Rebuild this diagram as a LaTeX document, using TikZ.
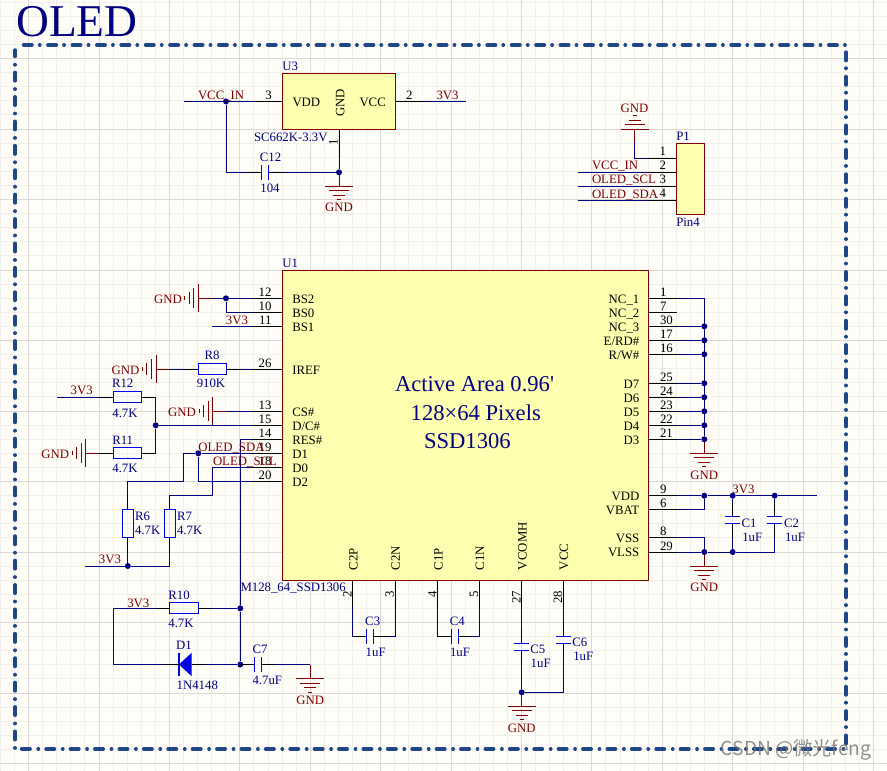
\documentclass[tikz,border=0pt]{standalone}
\usepackage{fontspec}
\setmainfont{Liberation Serif}
\newfontfamily\plainserif{Liberation Serif}
\newfontfamily\cjk{Noto Sans CJK SC}
\usetikzlibrary{calc}
\definecolor{netnavy}{HTML}{000080}
\definecolor{partblue}{HTML}{0000E6}
\definecolor{netred}{HTML}{800000}
\definecolor{bodyfill}{HTML}{FFFFB0}
\definecolor{sheet}{HTML}{FFFDF8}
\definecolor{gridminor}{HTML}{F1F0EB}
\definecolor{gridmajor}{HTML}{DAD9D5}
\definecolor{frameblue}{HTML}{1F4788}
\pgfdeclarelayer{bg}
\pgfdeclarelayer{wires}
\pgfsetlayers{bg,wires,main}
\tikzset{
  wire/.style={draw=netnavy,line width=1pt},
  leadblack/.style={draw=black,line width=1pt},
  gndline/.style={draw=netred,line width=1pt},
  plate/.style={draw=partblue,line width=1pt},
  bodybox/.style={draw=netred,fill=bodyfill,line width=1pt,inner sep=0pt,outer sep=0pt},
  rbox/.style={draw=partblue,line width=1pt,inner sep=0pt,outer sep=0pt,fill=none},
  rh/.style={rbox,minimum width=28.4pt,minimum height=11pt},
  rv/.style={rbox,minimum width=11pt,minimum height=28pt},
  junc/.style={circle,fill=netnavy,draw=none,minimum size=6pt,inner sep=0pt},
  txt/.style={inner sep=0pt,outer sep=0pt,text height=9.8pt,text depth=0pt,font=\fontsize{12.8}{14}\selectfont},
  des/.style={txt,text=netnavy},
  net/.style={txt,text=netred},
  pintxt/.style={txt,text=black},
  big/.style={inner sep=0pt,outer sep=0pt,text=netnavy,font=\plainserif\fontsize{22.6}{26}\selectfont,anchor=base west},
}
\newcommand{\W}[1]{\begin{pgfonlayer}{wires}\draw[wire] #1;\end{pgfonlayer}}
% ground symbols: terminal coordinate, 14 px stem, then four bars
\newcommand{\gndD}[3]{\coordinate (#1) at (#2,#3);
  \begin{pgfonlayer}{wires}\draw[gndline] (#1) -- ++(0,14);\end{pgfonlayer}
  \foreach \i/\w in {14/14,18.6/10,23.2/6,27.6/2}{\draw[gndline] ($(#1)+(-\w,\i)$) -- ($(#1)+(\w,\i)$);}}
\newcommand{\gndU}[3]{\coordinate (#1) at (#2,#3);
  \begin{pgfonlayer}{wires}\draw[gndline] (#1) -- ++(0,-14);\end{pgfonlayer}
  \foreach \i/\w in {14/14,18.6/10,23.2/6,27.6/2}{\draw[gndline] ($(#1)+(-\w,-\i)$) -- ($(#1)+(\w,-\i)$);}}
\newcommand{\gndL}[3]{\coordinate (#1) at (#2,#3);
  \begin{pgfonlayer}{wires}\draw[gndline] (#1) -- ++(-14,0);\end{pgfonlayer}
  \foreach \i/\w in {14/14,18.6/10,23.2/6,27.6/2}{\draw[gndline] ($(#1)+(-\i,-\w)$) -- ($(#1)+(-\i,\w)$);}}
% capacitors
\newcommand{\capH}[3]{\coordinate (#1) at (#2,#3);
  \coordinate (#1-l) at ($(#1)+(-3.5,0)$); \coordinate (#1-r) at ($(#1)+(3.5,0)$);
  \draw[plate] ($(#1-l)+(0,-7.3)$) -- ($(#1-l)+(0,7.3)$);
  \draw[plate] ($(#1-r)+(0,-7.3)$) -- ($(#1-r)+(0,7.3)$);
  \draw[leadblack] (#1-l) -- ++(-14,0); \draw[leadblack] (#1-r) -- ++(14,0);}
\newcommand{\capV}[3]{\coordinate (#1) at (#2,#3);
  \coordinate (#1-t) at ($(#1)+(0,-3.5)$); \coordinate (#1-b) at ($(#1)+(0,3.5)$);
  \draw[plate] ($(#1-t)+(-7.3,0)$) -- ($(#1-t)+(7.3,0)$);
  \draw[plate] ($(#1-b)+(-7.3,0)$) -- ($(#1-b)+(7.3,0)$);
  \draw[leadblack] (#1-t) -- ++(0,-14); \draw[leadblack] (#1-b) -- ++(0,14);}
% resistor leads
\newcommand{\leadsH}[1]{\draw[leadblack] (#1.west) -- ++(-14,0); \draw[leadblack] (#1.east) -- ++(14,0);}
\newcommand{\leadsV}[1]{\draw[leadblack] (#1.north) -- ++(0,-14); \draw[leadblack] (#1.south) -- ++(0,14);}
% U1 pins
\newcommand{\pinL}[4]{\coordinate (#1) at (282.3,#2); \coordinate (#1e) at (252,#2);
  \draw[leadblack] (#1) -- (#1e);
  \node[pintxt,anchor=east] (#1n) at (271.5,{#2-6.8}) {#3};
  \node[pintxt,anchor=west] (#1t) at (292.3,#2) {#4};}
\newcommand{\pinR}[4]{\coordinate (#1) at (648.3,#2); \coordinate (#1e) at (677,#2);
  \draw[leadblack] (#1) -- (#1e);
  \node[pintxt,anchor=west] (#1n) at (660,{#2-6.8}) {#3};
  \node[pintxt,anchor=east] (#1t) at (639.3,#2) {#4};}
\newcommand{\pinB}[4]{\coordinate (#1) at (#2,580.7); \coordinate (#1e) at (#2,606.7);
  \draw[leadblack] (#1) -- (#1e);
  \node[pintxt,rotate=90,anchor=east] (#1n) at ({#2-6},591) {#3};
  \node[pintxt,rotate=90,anchor=west] (#1t) at (#2,570) {#4};}
\begin{document}
\begin{tikzpicture}[x=1pt,y=-1pt]
\useasboundingbox (0,0) rectangle (887,771);
\begin{pgfonlayer}{bg}
  \fill[sheet] (0,0) rectangle (887,771);
  \foreach \i in {0,...,63}{\draw[gridminor,line width=0.9pt] ({0.44+14.08*\i},0) -- ({0.44+14.08*\i},771);}
  \foreach \j in {0,...,55}{\draw[gridminor,line width=0.9pt] (0,{2.1+14.1*\j}) -- (887,{2.1+14.1*\j});}
  \foreach \i in {-1,...,11}{\draw[gridmajor,line width=0.9pt] ({99+70.4*\i},0) -- ({99+70.4*\i},771);}
  \foreach \j in {-1,...,9}{\draw[gridmajor,line width=0.9pt] (0,{129+70.5*\j}) -- (887,{129+70.5*\j});}
\end{pgfonlayer}

% sheet frame and title
\draw[frameblue,line width=3.4pt,line cap=round,dash pattern=on 8.5pt off 7.5pt on 0.4pt off 8pt]
  (23.5,45) -- (846,45) -- (846,749) -- (15,749) -- (15,50);
\node[inner sep=0pt,text=netnavy,font=\fontsize{45.5}{50}\selectfont,anchor=base west] (title) at (16,36) {OLED};

% ---------- U3 regulator
\node[bodybox,minimum width=113pt,minimum height=56pt] (U3) at (339,101.4) {};
\coordinate (U3p3e) at (254,101.4); \coordinate (U3p2e) at (423,101.4); \coordinate (U3p1e) at (339,157);
\draw[leadblack] (U3.west) -- (U3p3e);
\draw[leadblack] (U3.east) -- (U3p2e);
\draw[leadblack] (U3.south) -- (U3p1e);
\coordinate (vinL) at (184,101.4);
\coordinate (v33a) at (466,101.4);
\node[junc] (jVin) at (226,101.4) {};
\node[junc] (jU3g) at (339,172.3) {};
\capH{C12}{265.2}{172.3}
\gndD{gU3}{339}{172.3}
\W{(vinL) -- (jVin) -- (U3p3e)}
\W{(U3p2e) -- (v33a)}
\W{(jVin) |- (C12-l)}
\W{(C12-r) -- (jU3g)}
\W{(U3p1e) -- (jU3g)}
\node[des,anchor=west] (tU3) at (282.3,66) {U3};
\node[des,anchor=west] (tU3c) at (254,137) {SC662K-3.3V};
\node[net,anchor=west] (tVin) at (198,95) {VCC\_IN};
\node[net,anchor=west] (t33a) at (436.5,95) {3V3};
\node[pintxt] (n3) at (268.5,95) {3};
\node[pintxt] (n2) at (409.3,95) {2};
\node[pintxt,rotate=90] (n1) at (332.7,142) {1};
\node[pintxt,anchor=west] (tVDDu) at (292.5,102) {VDD};
\node[pintxt,rotate=90] (tGNDu) at (339.5,103) {GND};
\node[pintxt,anchor=west] (tVCCu) at (359.5,102) {VCC};
\node[des] (tC12) at (270.5,157) {C12};
\node[des] (t104) at (270,188) {104};
\node[net] (tgU3) at (339,207) {GND};

% ---------- P1 connector
\node[bodybox,minimum width=28.4pt,minimum height=71pt] (P1) at (690.5,178.8) {};
\foreach \id/\y in {a/158.3,b/172.3,c/186.3,d/200.3}{
  \coordinate (P1\id) at (676.3,\y);
  \coordinate (P1\id e) at (648,\y);
  \draw[leadblack] (P1\id) -- (P1\id e);}
\coordinate (P1bF) at (578,172.3);
\coordinate (P1cF) at (578,186.3);
\coordinate (P1dF) at (578,200.3);
\gndU{gP1}{634.5}{143.3}
\W{(P1ae) -| (gP1)}
\W{(P1be) -- (P1bF)}
\W{(P1ce) -- (P1cF)}
\W{(P1de) -- (P1dF)}
\node[des,anchor=west] (tP1) at (676.3,136) {P1};
\node[des,anchor=west] (tPin4) at (676.3,222) {Pin4};
\node[net] (tgP1) at (634.5,108) {GND};
\node[pintxt,anchor=east] (p1n1) at (666,150.8) {1};
\node[pintxt,anchor=east] (p1n2) at (666,164.8) {2};
\node[pintxt,anchor=east] (p1n3) at (666,178.8) {3};
\node[pintxt,anchor=east] (p1n4) at (666,192.8) {4};
\node[net,anchor=west] (p1t2) at (592,165) {VCC\_IN};
\node[net,anchor=west] (p1t3) at (592,179) {OLED\_SCL};
\node[net,anchor=west] (p1t4) at (592,193.5) {OLED\_SDA};

% ---------- U1 display
\node[bodybox,minimum width=366pt,minimum height=310.7pt] (U1) at (465.3,425.35) {};
\node[des,anchor=west] (tU1) at (282.3,263) {U1};
\node[des,anchor=west] (tU1c) at (240.5,587) {M128\_64\_SSD1306};
\node[big] (cA) at (395,391.7) {Active Area 0.96'};
\node[big] (cB) at (410.7,420) {128×64 Pixels};
\node[big] (cC) at (424,448.3) {SSD1306};

\pinL{pBSb}{298.3}{12}{BS2}
\pinL{pBSz}{312.3}{10}{BS0}
\pinL{pBSa}{326.3}{11}{BS1}
\pinL{pIREF}{369.3}{26}{IREF}
\pinL{pCS}{411.3}{13}{CS\#}
\pinL{pDC}{425.3}{15}{D/C\#}
\pinL{pRES}{439.3}{14}{RES\#}
\pinL{pDa}{453.3}{19}{D1}
\pinL{pDz}{467.3}{18}{D0}
\pinL{pDb}{481.3}{20}{D2}

\pinR{pNCa}{298.3}{1}{NC\_1}
\pinR{pNCb}{312.3}{7}{NC\_2}
\pinR{pNCc}{326.3}{30}{NC\_3}
\pinR{pRD}{340.3}{17}{E/RD\#}
\pinR{pRW}{354.3}{16}{R/W\#}
\pinR{pDg}{383.3}{25}{D7}
\pinR{pDf}{397.3}{24}{D6}
\pinR{pDe}{411.3}{23}{D5}
\pinR{pDd}{425.3}{22}{D4}
\pinR{pDc}{439.3}{21}{D3}
\pinR{pVDD}{495.7}{9}{VDD}
\pinR{pVBAT}{509.5}{6}{VBAT\hspace{2.5pt}}
\pinR{pVSS}{537.5}{8}{VSS}
\pinR{pVLSS}{552}{29}{VLSS}

\pinB{pCbP}{352.7}{2}{C2P}
\pinB{pCbN}{395}{3}{C2N}
\pinB{pCaP}{437.7}{4}{C1P}
\pinB{pCaN}{479.3}{5}{C1N}
\pinB{pCOM}{521.7}{27}{VCOMH}
\pinB{pVCC}{563.3}{28}{VCC}

% BS pins
\node[junc] (jBS) at (226,298.3) {};
\gndL{gBS}{212.3}{298.3}
\coordinate (nBS) at (212.3,326.3);
\W{(pBSbe) -- (jBS) -- (gBS)}
\W{(jBS) |- (pBSze)}
\W{(pBSae) -- (nBS)}
\node[net] (tgBS) at (168,298.3) {GND};
\node[net] (t33BS) at (237,320) {3V3};

% IREF
\node[rh] (R8) at (212.5,369.3) {};
\leadsH{R8}
\gndL{gR8}{170}{369.3}
\W{(pIREFe) -- (R8.east)}
\W{(R8.west) -- (gR8)}
\node[net] (tgR8) at (125.5,369.3) {GND};
\node[des] (tR8) at (212,354.7) {R8};
\node[des] (vR8) at (211,383) {910K};

% R12, R11, D/C#
\node[rh] (R12) at (127.5,397.3) {};
\node[rh] (R11) at (127.5,453.3) {};
\leadsH{R12}
\leadsH{R11}
\node[junc] (jDC) at (155.7,425.3) {};
\coordinate (n33R) at (57,397.3);
\gndL{gR11}{99.7}{453.3}
\W{(n33R) -- (R12.west)}
\W{(R12.east) -| (jDC)}
\W{(R11.east) -| (jDC)}
\W{(pDCe) -- (jDC)}
\W{(R11.west) -- (gR11)}
\node[net] (t33R) at (81.7,390) {3V3};
\node[net] (tgR11) at (55.3,453.3) {GND};
\node[des] (tR12) at (122.7,383) {R12};
\node[des] (vR12) at (125,412.3) {4.7K};
\node[des] (tR11) at (122.7,439.7) {R11};
\node[des] (vR11) at (125,467.7) {4.7K};

% CS#
\gndL{gCS}{226.7}{411.3}
\W{(pCSe) -- (gCS)}
\node[net] (tgCS) at (182,411.3) {GND};

% D0, D1, D2 with pull-ups
\node[rv] (R6) at (127.8,523.3) {};
\node[rv] (R7) at (169.8,523.3) {};
\leadsV{R6}
\leadsV{R7}
\node[junc] (jD1) at (198.3,453.3) {};
\node[junc] (j33) at (127.8,566) {};
\coordinate (n33P) at (85,566);
\coordinate (d1a) at (183.3,453.3);
\coordinate (d1b) at (183.3,481.3);
\coordinate (d1c) at (127.8,481.3);
\coordinate (d0a) at (212.7,467.3);
\coordinate (d0b) at (212.7,495.7);
\coordinate (d0c) at (169.8,495.7);
\W{(pDae) -- (jD1) -- (d1a) -- (d1b) -- (d1c) -- (R6.north)}
\W{(jD1) |- (pDbe)}
\W{(pDze) -- (d0a) -- (d0b) -- (d0c) -- (R7.north)}
\W{(R6.south) -- (j33)}
\W{(n33P) -- (j33) -| (R7.south)}
\node[net] (tSDA) at (231.5,446.3) {OLED\_SDA};
\node[net] (tSCL) at (245,460.7) {OLED\_SCL};
\node[des,anchor=west] (tR6) at (135,515.5) {R6};
\node[des,anchor=west] (vR6) at (135,530) {4.7K};
\node[des,anchor=west] (tR7) at (177,515.5) {R7};
\node[des,anchor=west] (vR7) at (177,530) {4.7K};
\node[net] (t33P) at (110,558.7) {3V3};

% RES# network
\node[rh] (R10) at (184,608.3) {};
\leadsH{R10}
\node[junc] (jR10) at (240.3,608.3) {};
\node[junc] (jC7) at (240.3,664.5) {};
\coordinate (dc) at (113.3,664.5);
\coordinate (dk) at (179,664.5);
\coordinate (da) at (191.7,664.5);
\fill[partblue] (dk) -- (191.7,652.7) -- (191.7,676.3) -- cycle;
\draw[partblue,line width=2pt] (179,652.7) -- (179,676.3);
\draw[leadblack] (dk) -- ++(-14,0);
\draw[leadblack] (da) -- ++(14,0);
\capH{C7}{257.8}{664.5}
\gndD{gC7}{310.3}{664.5}
\W{(pRESe) -| (jR10) -- (jC7)}
\W{(R10.east) -- (jR10)}
\W{(R10.west) -| (dc) -- (dk)}
\W{(da) -- (jC7) -- (C7-l)}
\W{(C7-r) -- (gC7)}
\node[net] (t33D) at (138.3,602.3) {3V3};
\node[des] (tR10) at (179,595) {R10};
\node[des] (vR10) at (181,622.7) {4.7K};
\node[des] (tD1) at (184,645) {D1};
\node[des] (vD1) at (197.3,684.7) {1N4148};
\node[des] (tC7) at (260,648.7) {C7};
\node[des] (vC7) at (267.3,680) {4.7uF};
\node[net] (tgC7) at (310.3,699.5) {GND};

% bottom capacitors
\capH{C3}{369.8}{636.3}
\capH{C4}{454.8}{636.3}
\capV{C5}{521.7}{646.8}
\capV{C6}{563.3}{639.8}
\node[junc] (jB) at (521.7,692.3) {};
\gndD{gB}{521.7}{692.3}
\W{(pCbPe) |- (C3-l)}
\W{(pCbNe) |- (C3-r)}
\W{(pCaPe) |- (C4-l)}
\W{(pCaNe) |- (C4-r)}
\W{(pCOMe) -- (C5-t)}
\W{(C5-b) -- (jB)}
\W{(pVCCe) -- (C6-t)}
\W{(C6-b) |- (jB)}
\node[des] (tC3) at (372.7,620.3) {C3};
\node[des] (vC3) at (375.7,652) {1uF};
\node[des] (tC4) at (457.3,620.3) {C4};
\node[des] (vC4) at (460,652) {1uF};
\node[des,anchor=west] (tC5) at (530.3,648.3) {C5};
\node[des,anchor=west] (vC5) at (530.7,662.7) {1uF};
\node[des,anchor=west] (tC6) at (572.3,641.7) {C6};
\node[des,anchor=west] (vC6) at (573.3,655.7) {1uF};
\node[net] (tgB) at (521.7,727.5) {GND};

% right bus
\coordinate (busT) at (704.3,298.3);
\node[junc] (jNC) at (704.3,326.3) {};
\node[junc] (jRD) at (704.3,340.3) {};
\node[junc] (jRW) at (704.3,354.3) {};
\node[junc] (jDg) at (704.3,383.3) {};
\node[junc] (jDf) at (704.3,397.3) {};
\node[junc] (jDe) at (704.3,411.3) {};
\node[junc] (jDd) at (704.3,425.3) {};
\node[junc] (jDc) at (704.3,439.3) {};
\gndD{gBus}{704.3}{439.3}
\W{(pNCae) -- (busT) -- (jDc)}
\W{(pNCce) -- (jNC)}
\W{(pRDe) -- (jRD)}
\W{(pRWe) -- (jRW)}
\W{(pDge) -- (jDg)}
\W{(pDfe) -- (jDf)}
\W{(pDee) -- (jDe)}
\W{(pDde) -- (jDd)}
\W{(pDce) -- (jDc)}
\node[net] (tgBus) at (704.3,474.5) {GND};

% power rail
\node[junc] (jVDD) at (704.3,495.7) {};
\node[junc] (jCa) at (732.7,495.7) {};
\node[junc] (jCb) at (774.7,495.7) {};
\node[junc] (jVS) at (704.3,552) {};
\node[junc] (jCc) at (732.7,552) {};
\coordinate (cnr) at (774.7,552);
\coordinate (rail) at (816.7,495.7);
\capV{C1}{732.7}{520}
\capV{C2}{774.7}{520}
\gndD{gVS}{704.3}{552}
\W{(pVDDe) -- (jVDD) -- (jCa) -- (jCb) -- (rail)}
\W{(pVBATe) -| (jVDD)}
\W{(pVSSe) -| (jVS)}
\W{(pVLSSe) -- (jVS) -- (jCc) -- (cnr)}
\W{(jCa) -- (C1-t)}
\W{(C1-b) -- (jCc)}
\W{(jCb) -- (C2-t)}
\W{(C2-b) -- (cnr)}
\node[net] (t33V) at (743.5,488.7) {3V3};
\node[des,anchor=west] (tC1) at (741.7,522.7) {C1};
\node[des,anchor=west] (vC1) at (742.3,536.7) {1uF};
\node[des,anchor=west] (tC2) at (784,522.7) {C2};
\node[des,anchor=west] (vC2) at (785,536.7) {1uF};
\node[net] (tgVS) at (704.3,586.7) {GND};

% watermark
\node[inner sep=0pt,text=black!55,opacity=0.8,font=\cjk\fontsize{19.2}{22}\selectfont] (wm) at (796,750) {CSDN @微光feng};
\end{tikzpicture}
\end{document}
